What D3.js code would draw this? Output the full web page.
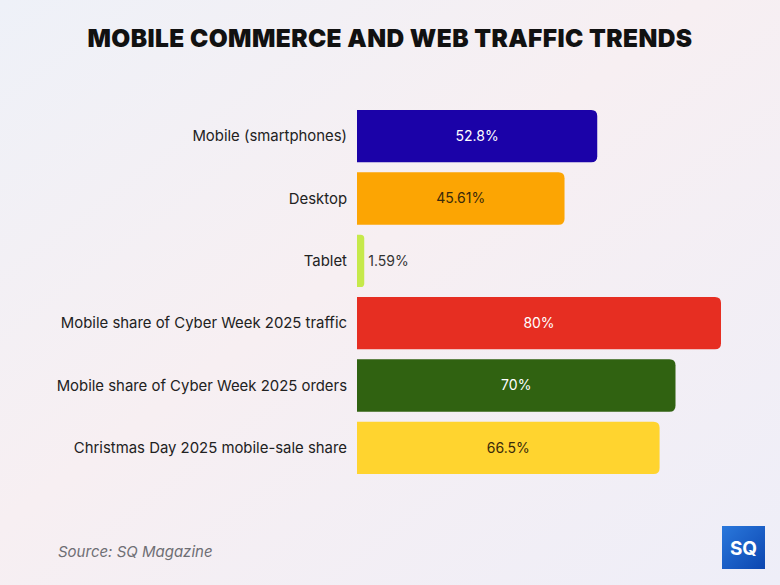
<!DOCTYPE html>
<html>
<head>
<meta charset="utf-8">
<script src="https://cdn.jsdelivr.net/npm/d3@7"></script>
<style>
  body { margin: 0; }
  svg { display: block; font-family: "Inter", "Noto Sans", sans-serif; }
</style>
</head>
<body>
<div id="chart"></div>
<script>
// Data
var categories = [
    'Mobile (smartphones)',
    'Desktop',
    'Tablet',
    'Mobile share of Cyber Week 2025 traffic',
    'Mobile share of Cyber Week 2025 orders',
    'Christmas Day 2025 mobile-sale share'
];
var values = [52.8, 45.61, 1.59, 80, 70, 66.5];
var valueLabels = ['52.8%', '45.61%', '1.59%', '80%', '70%', '66.5%'];
var barColors = ['#1b02a8', '#fca503', '#c6e94b', '#e62e22', '#306211', '#ffd42f'];
var labelColors = ['#ffffff', '#3a2a0a', '#333333', '#ffffff', '#ffffff', '#3a2a0a'];

var width = 780, height = 585;

var svg = d3.select('#chart').append('svg')
    .attr('width', width)
    .attr('height', height);

// Background gradient
var defs = svg.append('defs');
var bg = defs.append('linearGradient')
    .attr('id', 'bg')
    .attr('x1', '0').attr('y1', '0')
    .attr('x2', '1').attr('y2', '1');
bg.append('stop').attr('offset', '0%').attr('stop-color', '#eef1f8');
bg.append('stop').attr('offset', '45%').attr('stop-color', '#f7eff2');
bg.append('stop').attr('offset', '100%').attr('stop-color', '#eeeef8');

var logoGrad = defs.append('linearGradient')
    .attr('id', 'logo')
    .attr('x1', '0').attr('y1', '0')
    .attr('x2', '1').attr('y2', '1');
logoGrad.append('stop').attr('offset', '0%').attr('stop-color', '#2a78dc');
logoGrad.append('stop').attr('offset', '100%').attr('stop-color', '#0c46b0');

svg.append('rect')
    .attr('width', width)
    .attr('height', height)
    .attr('fill', 'url(#bg)');

// Title
svg.append('text')
    .attr('x', 390)
    .attr('y', 47)
    .attr('text-anchor', 'middle')
    .style('font-size', '24.5px')
    .style('font-weight', 900)
    .style('letter-spacing', '0.4px')
    .attr('fill', '#111111')
    .text('MOBILE COMMERCE AND WEB TRAFFIC TRENDS');

// Scales
var x = d3.scaleLinear()
    .domain([0, 80])
    .range([357, 721]);

var y = d3.scaleBand()
    .domain(categories)
    .range([105, 479])
    .paddingInner(0.16)
    .paddingOuter(0.08);

// Bar path with rounded right corners
function barPath(x0, y0, w, h) {
    var r = Math.min(6, w / 2, h / 2);
    return 'M' + x0 + ',' + y0 +
        'H' + (x0 + w - r) +
        'Q' + (x0 + w) + ',' + y0 + ' ' + (x0 + w) + ',' + (y0 + r) +
        'V' + (y0 + h - r) +
        'Q' + (x0 + w) + ',' + (y0 + h) + ' ' + (x0 + w - r) + ',' + (y0 + h) +
        'H' + x0 + 'Z';
}

var rows = svg.append('g').selectAll('g')
    .data(categories)
    .enter().append('g');

rows.append('path')
    .attr('d', function(d, i) {
        return barPath(x(0), y(d), x(values[i]) - x(0), y.bandwidth());
    })
    .attr('fill', function(d, i) { return barColors[i]; });

// Category labels
rows.append('text')
    .attr('x', x(0) - 10)
    .attr('y', function(d) { return y(d) + y.bandwidth() / 2; })
    .attr('dy', '0.35em')
    .attr('text-anchor', 'end')
    .style('font-size', '14.9px')
    .attr('fill', '#222222')
    .text(function(d) { return d; });

// Value labels: inside if wide enough, else outside
rows.append('text')
    .attr('x', function(d, i) {
        var w = x(values[i]) - x(0);
        return w > 40 ? x(0) + w / 2 : x(values[i]) + 4;
    })
    .attr('y', function(d) { return y(d) + y.bandwidth() / 2; })
    .attr('dy', '0.35em')
    .attr('text-anchor', function(d, i) {
        return (x(values[i]) - x(0)) > 40 ? 'middle' : 'start';
    })
    .style('font-size', '14px')
    .attr('fill', function(d, i) { return labelColors[i]; })
    .text(function(d, i) { return valueLabels[i]; });

// Source
svg.append('text')
    .attr('x', 58)
    .attr('y', 557)
    .style('font-size', '15px')
    .style('font-style', 'italic')
    .attr('fill', '#6e6e74')
    .text('Source: SQ Magazine');

// Logo
svg.append('rect')
    .attr('x', 722)
    .attr('y', 526)
    .attr('width', 43)
    .attr('height', 43)
    .attr('fill', 'url(#logo)');

svg.append('text')
    .attr('x', 743.5)
    .attr('y', 555)
    .attr('text-anchor', 'middle')
    .style('font-size', '19px')
    .style('font-weight', 700)
    .attr('fill', '#ffffff')
    .text('SQ');
</script>
</body>
</html>
